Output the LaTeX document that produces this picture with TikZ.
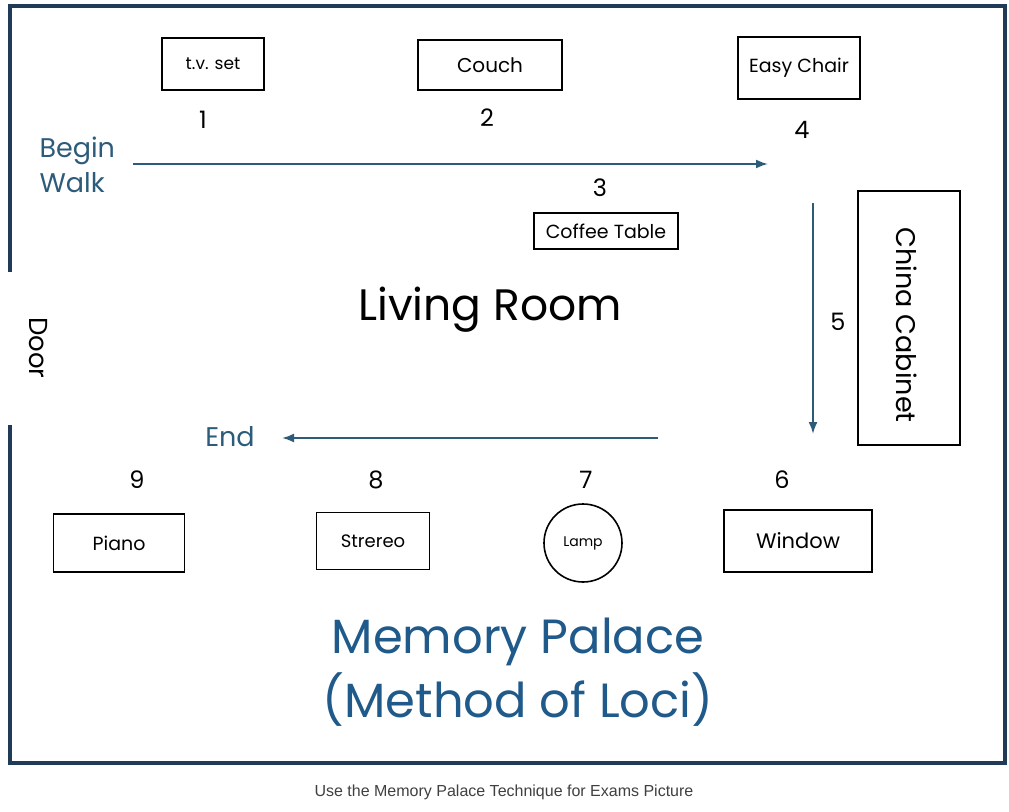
\documentclass[tikz,border=0pt]{standalone}
\usepackage{fontspec}
\setmainfont{Poppins}
\newfontfamily\capfont{Liberation Sans}
\usetikzlibrary{arrows.meta}
\definecolor{wall}{HTML}{1F3B57}
\definecolor{teal}{HTML}{2D5C7A}
\definecolor{title}{HTML}{1F5A8A}
\tikzset{x=1pt,y=-1pt,
 item/.style={draw,line width=1.6pt,inner sep=0pt,font=\fontsize{17}{17}\selectfont},
 num/.style={font=\fontsize{24}{24}\selectfont},
 walk/.style={draw=teal,line width=2pt,-{Latex[length=12pt,width=9pt]}}}
\begin{document}
\begin{tikzpicture}
\useasboundingbox (0,0) rectangle (1009,811);
\fill[white] (0,0) rectangle (1009,811);
\draw[wall,line width=4pt] (10,272) -- (10,6) -- (1005,6) -- (1005,763) -- (10,763) -- (10,425);
\node[item,minimum width=102pt,minimum height=52pt] (tv) at (213,64) {t.v. set};
\node[item,minimum width=144pt,minimum height=50pt,font=\fontsize{20}{20}\selectfont] (couch) at (490,65) {Couch};
\node[item,minimum width=122pt,minimum height=62pt,font=\fontsize{19}{19}\selectfont] (chair) at (799,68) {Easy Chair};
\node[item,minimum width=144pt,minimum height=36pt,font=\fontsize{19}{19}\selectfont] (coffee) at (606,231) {Coffee Table};
\node[item,minimum width=102pt,minimum height=254pt] (china) at (909,318) {};
\node[rotate=-90,font=\fontsize{27}{27}\selectfont] (chinat) at (907,325) {China Cabinet};
\node[item,minimum width=131pt,minimum height=58pt,font=\fontsize{19}{19}\selectfont] (piano) at (119,543) {Piano};
\node[item,minimum width=113pt,minimum height=57pt,font=\fontsize{18}{18}\selectfont] (stereo) at (373,541) {Strereo};
\node[item,circle,minimum size=78pt,font=\fontsize{14}{14}\selectfont] (lamp) at (583,543) {Lamp};
\node[item,minimum width=148pt,minimum height=62pt,font=\fontsize{21}{21}\selectfont] (window) at (798,541) {Window};
\node[num] (n1) at (203,120) {1};
\node[num] (n2) at (487,118) {2};
\node[num] (n3) at (600,188) {3};
\node[num] (n4) at (802,130) {4};
\node[num] (n5) at (838,322) {5};
\node[num] (n6) at (782,480) {6};
\node[num] (n7) at (586,480) {7};
\node[num] (n8) at (376,480) {8};
\node[num] (n9) at (137,480) {9};
\node[text=teal,align=left,anchor=west,font=\fontsize{27}{35}\selectfont] (begin) at (36,165) {Begin\\Walk};
\node[text=teal,font=\fontsize{27}{27}\selectfont] (end) at (230,437) {End};
\node[rotate=-90,font=\fontsize{26}{26}\selectfont] (door) at (38,348) {Door};
\node[font=\fontsize{44}{44}\selectfont] (room) at (490,310) {Living Room};
\coordinate (a1) at (133,164); \coordinate (a2) at (768,164);
\coordinate (b1) at (813,203); \coordinate (b2) at (813,434);
\coordinate (c1) at (658,438); \coordinate (c2) at (282,438);
\draw[walk] (a1) -- (a2);
\draw[walk] (b1) -- (b2);
\draw[walk] (c1) -- (c2);
\node[text=title,align=center,font=\fontsize{48}{64}\selectfont] (ttl) at (518,672) {Memory Palace\\(Method of Loci)};
\node[text=black!75,font=\capfont\fontsize{16}{16}\selectfont] (cap) at (504,792) {Use the Memory Palace Technique for Exams Picture};
\end{tikzpicture}
\end{document}
